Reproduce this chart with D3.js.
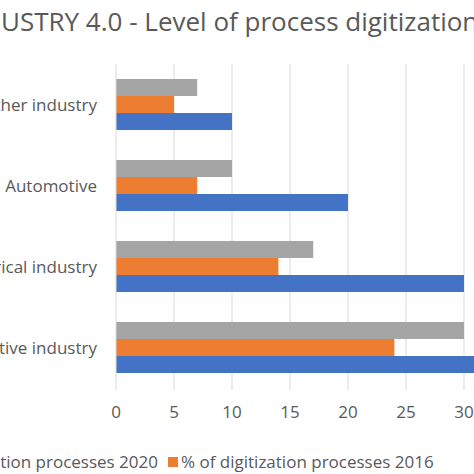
<!DOCTYPE html>
<html><head><meta charset="utf-8">
<script src="https://cdn.jsdelivr.net/npm/d3@7"></script>
<style>body{margin:0;background:#fff}text{font-family:"Open Sans",sans-serif;fill:#595959}</style>
</head><body>
<script>
const categories = ["Other industry", "Automotive", "Electrical industry", "Automotive industry"]
const seriesNames = ["% of digitization processes 2020", "% of digitization processes 2016", "% of digitization processes 2022"]
const seriesColors = ["#a5a5a5", "#ed7d31", "#4472c4"]
const gray2020 = [7, 10, 17, 30]
const orange2016 = [5, 7, 14, 24]
const blue2022 = [10, 20, 30, 31]
const ticks = [0, 5, 10, 15, 20, 25, 30]

const width = 474, height = 474
const svg = d3.select("body").append("svg").attr("width", width).attr("height", height)

const x = d3.scaleLinear().domain([0, 30]).range([116, 464])
const y0 = d3.scaleBand().domain(categories).range([64, 388]).paddingInner(0.37).paddingOuter(0.185)
const y1 = d3.scaleBand().domain([0, 1, 2]).range([0, y0.bandwidth()])
const series = [gray2020, orange2016, blue2022]

// title, cut off at the left like the reference
const title = svg.append("text").attr("y", 31).style("font-size", "26px")
title.append("tspan").text("IND")
const pre = title.node().getComputedTextLength()
title.append("tspan").text("USTRY 4.0 - Level of process digitization")
title.attr("x", -pre + 1)

svg.append("g").selectAll("line").data(ticks.slice(1)).enter().append("line")
    .attr("x1", d => x(d)).attr("x2", d => x(d))
    .attr("y1", 64).attr("y2", 390)
    .style("stroke", "#d9d9d9")

categories.forEach((c, i) => {
    series.forEach((s, j) => {
        svg.append("rect")
            .attr("x", x(0)).attr("y", y0(c) + y1(j))
            .attr("width", x(s[i]) - x(0)).attr("height", y1.bandwidth())
            .style("fill", seriesColors[j])
    })
    svg.append("text").attr("x", 97).attr("y", y0(c) + y0.bandwidth() / 2 + 6)
        .attr("text-anchor", "end").style("font-size", "17px").text(c)
})

svg.append("line").attr("x1", x(0)).attr("x2", x(0)).attr("y1", 64).attr("y2", 390)
    .style("stroke", "#d9d9d9")

svg.append("g").selectAll("text").data(ticks).enter().append("text")
    .attr("x", d => x(d)).attr("y", 418).attr("text-anchor", "middle")
    .style("font-size", "17px").text(d => d)

// legend: first entry cut off at the left
const t0 = svg.append("text").attr("y", 468).style("font-size", "17px").text(seriesNames[0])
const w0 = t0.node().getComputedTextLength()
t0.attr("x", 158 - w0)
svg.append("rect").attr("x", 158 - w0 - 14).attr("y", 457).attr("width", 10).attr("height", 10)
    .style("fill", seriesColors[0])
svg.append("rect").attr("x", 168).attr("y", 457).attr("width", 10).attr("height", 10)
    .style("fill", seriesColors[1])
svg.append("text").attr("x", 181).attr("y", 468).style("font-size", "17px").text(seriesNames[1])
</script>
</body></html>
